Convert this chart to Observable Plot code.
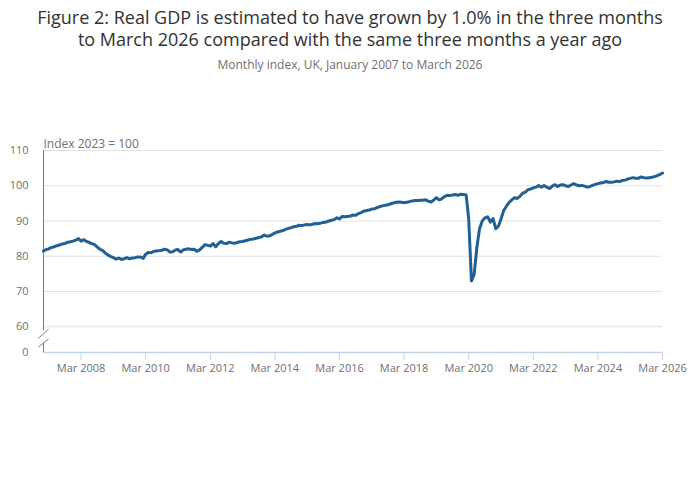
<!DOCTYPE html>
<html>
<head>
<meta charset="utf-8">
<script src="https://cdn.jsdelivr.net/npm/d3@7"></script>
<script src="https://cdn.jsdelivr.net/npm/@observablehq/plot@0.6"></script>
<style>
  html, body { margin: 0; padding: 0; background: #fff; }
  body { width: 700px; height: 502px; position: relative; font-family: "Open Sans", sans-serif; overflow: hidden; }
  #title { position: absolute; left: 0; top: 6px; width: 700px; text-align: center; font-size: 18px; line-height: 22px; color: #323132; }
  #subtitle { position: absolute; left: 0; top: 57px; width: 700px; text-align: center; font-size: 12px; line-height: 16px; color: #707070; }
  #chart { position: absolute; left: 0; top: 80px; }
</style>
</head>
<body>
<div id="title">Figure 2: Real GDP is estimated to have grown by 1.0% in the three months<br>to March 2026 compared with the same three months a year ago</div>
<div id="subtitle">Monthly index, UK, January 2007 to March 2026</div>
<div id="chart"></div>
<script>
// Monthly index values (2023 = 100), January 2007 to March 2026
const startYear = 2007;
const gdp2007 = [81.5, 81.9, 82.1, 82.5, 82.7, 83.0, 83.2, 83.5, 83.6, 84.0, 84.1, 84.3];
const gdp2008 = [84.6, 85.0, 84.3, 84.7, 84.2, 83.9, 83.6, 83.3, 82.6, 82.0, 81.6, 80.9];
const gdp2009 = [80.3, 79.9, 79.6, 79.2, 79.5, 79.1, 79.3, 79.6, 79.3, 79.5, 79.6, 79.8];
const gdp2010 = [79.8, 79.4, 80.6, 81.1, 81.0, 81.4, 81.5, 81.6, 81.7, 82.0, 81.8, 81.2];
const gdp2011 = [81.3, 81.8, 81.9, 81.2, 81.8, 82.0, 82.1, 81.9, 82.0, 81.4, 81.8, 82.5];
const gdp2012 = [83.3, 83.1, 82.9, 83.6, 82.7, 83.6, 84.2, 83.7, 83.6, 84.0, 83.8, 83.7];
const gdp2013 = [83.9, 84.1, 84.2, 84.4, 84.6, 84.8, 84.9, 85.1, 85.3, 85.5, 86.0, 85.7];
const gdp2014 = [85.8, 86.2, 86.6, 86.9, 87.1, 87.3, 87.6, 87.9, 88.1, 88.4, 88.5, 88.8];
const gdp2015 = [88.7, 88.9, 89.0, 88.9, 89.1, 89.3, 89.2, 89.4, 89.6, 89.7, 90.0, 90.2];
const gdp2016 = [90.4, 90.9, 90.6, 91.3, 91.2, 91.3, 91.4, 91.7, 91.6, 92.1, 92.4, 92.8];
const gdp2017 = [93.0, 93.1, 93.4, 93.5, 93.8, 94.1, 94.3, 94.5, 94.6, 94.9, 95.1, 95.3];
const gdp2018 = [95.4, 95.3, 95.2, 95.3, 95.5, 95.7, 95.8, 95.8, 95.9, 95.9, 96.0, 95.6];
const gdp2019 = [95.4, 96.0, 96.6, 96.0, 96.3, 96.9, 97.3, 97.2, 97.4, 97.5, 97.3, 97.6];
const gdp2020 = [97.5, 97.4, 90.5, 73.0, 74.8, 82.5, 87.8, 90.0, 90.9, 91.2, 89.7, 90.7];
const gdp2021 = [87.8, 88.6, 90.6, 93.0, 94.2, 95.3, 96.0, 96.6, 96.4, 97.0, 97.9, 98.2];
const gdp2022 = [98.9, 99.1, 99.4, 99.6, 100.1, 99.6, 100.1, 99.6, 99.2, 99.9, 100.3, 99.8];
const gdp2023 = [100.2, 100.3, 100.0, 99.8, 100.2, 100.6, 100.2, 100.0, 100.1, 99.9, 99.6, 99.8];
const gdp2024 = [100.1, 100.4, 100.6, 100.8, 100.9, 101.2, 101.0, 101.0, 101.1, 101.3, 101.2, 101.5];
const gdp2025 = [101.6, 101.9, 102.1, 102.3, 102.1, 102.1, 102.5, 102.3, 102.2, 102.3, 102.4, 102.6];
const gdp2026 = [102.9, 103.2, 103.6];

const yearlyValues = [gdp2007, gdp2008, gdp2009, gdp2010, gdp2011, gdp2012, gdp2013, gdp2014, gdp2015, gdp2016,
  gdp2017, gdp2018, gdp2019, gdp2020, gdp2021, gdp2022, gdp2023, gdp2024, gdp2025, gdp2026];

const xTickYears = [2008, 2010, 2012, 2014, 2016, 2018, 2020, 2022, 2024, 2026];
const yTickValues = [60, 70, 80, 90, 100, 110];
const gridValues = [60, 70, 80, 90, 100, 110];
const unitLabel = "Index 2023 = 100";
// The y axis is broken below 60: the bottom of the axis stands for 0.
const axisBreakFloor = 52.7;
const zeroLabel = "0";

const data = yearlyValues.flatMap((vals, yi) =>
  vals.map((v, m) => ({date: new Date(Date.UTC(startYear + yi, m, 1)), value: v})));
const xTicks = xTickYears.map(y => new Date(Date.UTC(y, 2, 1)));

const W = 700, H = 422;
const mL = 43, mR = 38, mT = 70, mB = 150;

const breakMark = (index, scales, values, dims) => {
  const g = d3.create("svg:g").attr("fill", "none");
  const x0 = dims.marginLeft + 0.5;
  const y60 = scales.y(60), y0 = scales.y(axisBreakFloor), yTop = scales.y(110);
  const gapTop = y60 + 4, gapBot = y0 - 9;
  const axisColor = "#7a7a7a";
  g.append("line").attr("x1", x0).attr("x2", x0).attr("y1", yTop).attr("y2", gapTop).attr("stroke", axisColor);
  g.append("line").attr("x1", x0).attr("x2", x0).attr("y1", gapBot).attr("y2", y0).attr("stroke", axisColor);
  g.append("line").attr("x1", x0 - 5).attr("x2", x0 + 5).attr("y1", gapTop + 8).attr("y2", gapTop - 1).attr("stroke", axisColor);
  g.append("line").attr("x1", x0 - 5).attr("x2", x0 + 5).attr("y1", gapBot + 4).attr("y2", gapBot - 4).attr("stroke", axisColor);
  return g.node();
};

const chart = Plot.plot({
  width: W,
  height: H,
  marginLeft: mL,
  marginRight: mR,
  marginTop: mT,
  marginBottom: mB,
  style: {fontFamily: "Open Sans, sans-serif", fontSize: "11px", background: "transparent"},
  x: {type: "utc", domain: [data[0].date, data[data.length - 1].date], axis: null},
  y: {domain: [axisBreakFloor, 110], axis: null},
  marks: [
    Plot.ruleY(gridValues, {stroke: "#e2e2e2", strokeWidth: 1}),
    Plot.ruleY([axisBreakFloor], {stroke: "#c5d3e8", strokeWidth: 1.5}),
    Plot.axisX(xTicks, {tickSize: 8, tickFormat: () => "", color: "#c5d3e8"}),
    Plot.axisX(xTicks, {tickSize: 0, tickPadding: 12, tickFormat: d3.utcFormat("%b %Y"), color: "#707070", fontSize: 11}),
    Plot.axisY([axisBreakFloor, ...yTickValues], {tickSize: 0, tickPadding: 15, color: "#707070", fontSize: 11, label: null,
      tickFormat: d => d < 60 ? zeroLabel : String(d)}),
    breakMark,
    Plot.text([unitLabel], {frameAnchor: "top-left", textAnchor: "start", lineAnchor: "bottom", dy: -3, fill: "#707070", fontSize: 12}),
    Plot.line(data, {x: "date", y: "value", stroke: "#206095", strokeWidth: 3, strokeLinejoin: "round", strokeLinecap: "round"})
  ]
});
document.getElementById("chart").appendChild(chart);
</script>
</body>
</html>
